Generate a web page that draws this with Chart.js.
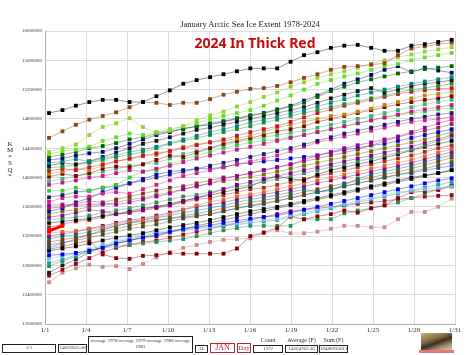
<!DOCTYPE html>
<html><head><meta charset="utf-8">
<script src="https://cdn.jsdelivr.net/npm/chart.js@4/dist/chart.umd.min.js"></script>
<style>
body{margin:0;background:#fff;}
#wrap{position:relative;width:474px;height:355px;overflow:hidden;background:#fff;}
#c{position:absolute;left:0;top:0;}
.t{position:absolute;font-family:'Liberation Serif','Times New Roman',serif;color:#222;white-space:nowrap;}
.box{position:absolute;box-sizing:border-box;border:1.5px solid #222;background:#fff;font-family:'Liberation Serif',serif;font-size:5px;color:#333;text-align:center;overflow:hidden;white-space:nowrap;}
.lbl{position:absolute;font-family:'Liberation Serif',serif;font-size:6px;color:#333;text-align:center;white-space:nowrap;}
</style></head><body>
<div id="wrap">
<canvas id="c" width="474" height="338"></canvas>
<div class="t" style="left:130px;width:240px;top:19px;font-size:8.5px;text-align:center;">January Arctic Sea Ice Extent 1978-2024</div>
<div class="t" style="left:150px;width:210px;top:33px;font-size:14px;text-align:center;font-family:'Noto Sans','Open Sans',sans-serif;font-weight:bold;color:#cc0a0a;">2024 In Thick Red</div>
<div class="t" style="left:5px;width:10px;top:141px;font-size:7px;line-height:6.4px;text-align:center;white-space:normal;">K<br>M<br>*<br>S<br>Q<br>*</div>
<div class="box" style="left:2px;top:344px;width:54px;height:9px;line-height:6px;">1/1</div>
<div class="box" style="left:58px;top:344px;width:29px;height:9px;line-height:6px;">14033625.00</div>
<div class="box" style="left:88px;top:336px;width:105px;height:17px;line-height:6px;padding-top:1px;white-space:normal;">average 1978 average 1979 average 1980 average 1981</div>
<div class="box" style="left:195px;top:345px;width:13px;height:8px;line-height:5px;">AL</div>
<div class="box" style="left:210px;top:343px;width:25px;height:10px;border:1px solid #a33;color:#d02030;font-size:8px;line-height:8px;">JAN</div>
<div class="box" style="left:237px;top:343px;width:14px;height:10px;border:1px solid #a33;color:#d02030;font-size:7px;line-height:8px;">Day</div>
<div class="lbl" style="left:253px;width:30px;top:337px;">Count</div>
<div class="box" style="left:253px;top:345px;width:30px;height:8px;line-height:5px;">1372</div>
<div class="lbl" style="left:285px;width:33px;top:337px;">Average (F)</div>
<div class="box" style="left:285px;top:345px;width:33px;height:8px;line-height:5px;">14204763.36</div>
<div class="lbl" style="left:319px;width:29px;top:337px;">Sum (F)</div>
<div class="box" style="left:319px;top:345px;width:29px;height:8px;line-height:5px;">19480935611</div>
<div style="position:absolute;left:421px;top:333px;width:31px;height:17px;background:linear-gradient(160deg,#c9b37a 0%,#8a7046 35%,#3b2e22 55%,#9b8a66 75%,#d8cfa8 100%);"></div>
<div style="position:absolute;left:419px;top:350px;width:35px;height:3px;background:#e04040;opacity:0.7;"></div>
</div>
<script>
const dayLabels = ['1/1','1/2','1/3','1/4','1/5','1/6','1/7','1/8','1/9','1/10','1/11','1/12','1/13','1/14','1/15','1/16','1/17','1/18','1/19','1/20','1/21','1/22','1/23','1/24','1/25','1/26','1/27','1/28','1/29','1/30','1/31'];
const yTickValues = [12000000,12400000,12800000,13200000,13600000,14000000,14400000,14800000,15200000,15600000,16000000];

const s01 = [14.88e6,14.92e6,14.98e6,15.03e6,15.06e6,15.06e6,15.03e6,15.03e6,15.11e6,15.19e6,15.28e6,15.33e6,15.37e6,15.41e6,15.45e6,15.49e6,15.49e6,15.49e6,15.58e6,15.67e6,15.71e6,15.77e6,15.80e6,15.81e6,15.77e6,15.73e6,15.73e6,15.80e6,15.82e6,15.85e6,15.88e6];
const s02 = [14.54e6,14.63e6,14.72e6,14.79e6,14.84e6,14.89e6,14.96e6,15.03e6,15.02e6,14.99e6,15.02e6,15.02e6,15.07e6,15.13e6,15.17e6,15.21e6,15.22e6,15.25e6,15.30e6,15.36e6,15.41e6,15.47e6,15.51e6,15.52e6,15.54e6,15.56e6,15.67e6,15.76e6,15.79e6,15.82e6,15.84e6];
const s03 = [14.35e6,14.40e6,14.45e6,14.58e6,14.69e6,14.74e6,14.81e6,14.69e6,14.61e6,14.64e6,14.70e6,14.78e6,14.85e6,14.90e6,14.97e6,15.03e6,15.10e6,15.16e6,15.24e6,15.30e6,15.36e6,15.41e6,15.45e6,15.50e6,15.55e6,15.60e6,15.64e6,15.68e6,15.72e6,15.75e6,15.78e6];
const s04 = [14.32e6,14.36e6,14.38e6,14.42e6,14.50e6,14.55e6,14.60e6,14.58e6,14.62e6,14.66e6,14.70e6,14.74e6,14.80e6,14.84e6,14.88e6,14.92e6,14.98e6,15.05e6,15.12e6,15.20e6,15.28e6,15.33e6,15.38e6,15.42e6,15.47e6,15.52e6,15.55e6,15.60e6,15.64e6,15.67e6,15.70e6];
const s05 = [14.28e6,14.31e6,14.35e6,14.40e6,14.43e6,14.47e6,14.52e6,14.55e6,14.60e6,14.63e6,14.66e6,14.70e6,14.74e6,14.77e6,14.81e6,14.85e6,14.88e6,14.92e6,14.97e6,15.02e6,15.10e6,15.18e6,15.24e6,15.30e6,15.34e6,15.38e6,15.42e6,15.45e6,15.48e6,15.50e6,15.52e6];
const s06 = [14.24e6,14.26e6,14.30e6,14.33e6,14.35e6,14.40e6,14.46e6,14.52e6,14.58e6,14.62e6,14.67e6,14.70e6,14.72e6,14.76e6,14.80e6,14.84e6,14.88e6,14.93e6,14.98e6,15.05e6,15.12e6,15.20e6,15.28e6,15.34e6,15.40e6,15.47e6,15.52e6,15.44e6,15.50e6,15.46e6,15.43e6];
const s07 = [14.20e6,14.22e6,14.25e6,14.22e6,14.26e6,14.30e6,14.35e6,14.38e6,14.42e6,14.47e6,14.52e6,14.57e6,14.62e6,14.66e6,14.70e6,14.75e6,14.79e6,14.83e6,14.88e6,14.92e6,14.97e6,15.02e6,15.07e6,15.12e6,15.16e6,15.20e6,15.24e6,15.28e6,15.31e6,15.34e6,15.37e6];
const s08 = [14.16e6,14.20e6,14.18e6,14.22e6,14.28e6,14.34e6,14.40e6,14.46e6,14.50e6,14.55e6,14.60e6,14.65e6,14.68e6,14.72e6,14.76e6,14.80e6,14.84e6,14.88e6,14.92e6,14.96e6,15.02e6,15.08e6,15.13e6,15.18e6,15.22e6,15.16e6,15.20e6,15.25e6,15.28e6,15.30e6,15.33e6];
const s09 = [14.13e6,14.15e6,14.17e6,14.20e6,14.24e6,14.28e6,14.31e6,14.35e6,14.40e6,14.46e6,14.50e6,14.54e6,14.58e6,14.62e6,14.66e6,14.70e6,14.75e6,14.79e6,14.84e6,14.88e6,14.92e6,14.96e6,15.00e6,15.04e6,15.08e6,15.12e6,15.16e6,15.20e6,15.22e6,15.25e6,15.28e6];
const s10 = [14.09e6,14.12e6,14.10e6,14.14e6,14.18e6,14.22e6,14.26e6,14.30e6,14.33e6,14.36e6,14.40e6,14.44e6,14.48e6,14.52e6,14.57e6,14.62e6,14.66e6,14.70e6,14.76e6,14.82e6,14.88e6,14.93e6,14.98e6,15.02e6,15.06e6,15.10e6,15.14e6,15.17e6,15.19e6,15.21e6,15.22e6];
const s11 = [14.05e6,14.08e6,14.12e6,14.10e6,14.16e6,14.22e6,14.25e6,14.29e6,14.31e6,14.36e6,14.42e6,14.45e6,14.48e6,14.50e6,14.53e6,14.57e6,14.62e6,14.68e6,14.72e6,14.76e6,14.80e6,14.84e6,14.86e6,14.90e6,14.94e6,14.99e6,15.03e6,15.08e6,15.12e6,15.14e6,15.17e6];
const s12 = [14.01e6,14.05e6,14.02e6,14.06e6,14.12e6,14.15e6,14.14e6,14.18e6,14.24e6,14.30e6,14.28e6,14.34e6,14.40e6,14.46e6,14.50e6,14.54e6,14.58e6,14.63e6,14.66e6,14.70e6,14.76e6,14.80e6,14.84e6,14.88e6,14.92e6,14.96e6,15.00e6,15.03e6,15.06e6,15.08e6,15.11e6];
const s13 = [13.95e6,13.98e6,14.02e6,14.05e6,14.08e6,14.12e6,14.16e6,14.18e6,14.20e6,14.26e6,14.32e6,14.36e6,14.40e6,14.44e6,14.48e6,14.52e6,14.55e6,14.58e6,14.61e6,14.64e6,14.68e6,14.72e6,14.76e6,14.80e6,14.84e6,14.88e6,14.92e6,14.96e6,15.00e6,15.03e6,15.06e6];
const s14 = [13.90e6,13.93e6,13.96e6,14.00e6,14.02e6,14.06e6,14.10e6,14.08e6,14.12e6,14.16e6,14.21e6,14.26e6,14.30e6,14.34e6,14.38e6,14.42e6,14.46e6,14.50e6,14.54e6,14.58e6,14.62e6,14.66e6,14.70e6,14.74e6,14.78e6,14.82e6,14.86e6,14.90e6,14.93e6,14.96e6,14.99e6];
const s15 = [13.82e6,13.82e6,13.86e6,13.82e6,13.86e6,13.90e6,14.00e6,14.08e6,14.10e6,14.18e6,14.25e6,14.30e6,14.35e6,14.40e6,14.44e6,14.48e6,14.50e6,14.52e6,14.55e6,14.58e6,14.62e6,14.66e6,14.70e6,14.74e6,14.78e6,14.82e6,14.85e6,14.88e6,14.90e6,14.93e6,14.95e6];
const s16 = [13.73e6,13.76e6,13.80e6,13.82e6,13.86e6,13.88e6,13.92e6,13.96e6,14.00e6,14.04e6,14.08e6,14.12e6,14.16e6,14.20e6,14.24e6,14.28e6,14.32e6,14.36e6,14.40e6,14.45e6,14.50e6,14.55e6,14.60e6,14.64e6,14.68e6,14.72e6,14.76e6,14.80e6,14.83e6,14.86e6,14.88e6];
const s17 = [13.67e6,13.72e6,13.74e6,13.74e6,13.78e6,13.80e6,13.78e6,13.84e6,13.90e6,13.96e6,14.02e6,14.06e6,14.10e6,14.14e6,14.18e6,14.22e6,14.26e6,14.30e6,14.36e6,14.42e6,14.48e6,14.52e6,14.56e6,14.60e6,14.64e6,14.68e6,14.72e6,14.76e6,14.78e6,14.80e6,14.83e6];
const s18 = [13.62e6,13.63e6,13.62e6,13.63e6,13.64e6,13.63e6,13.66e6,13.70e6,13.74e6,13.78e6,13.84e6,13.88e6,13.92e6,13.98e6,14.02e6,14.06e6,14.10e6,14.14e6,14.18e6,14.24e6,14.30e6,14.35e6,14.40e6,14.44e6,14.48e6,14.52e6,14.56e6,14.62e6,14.68e6,14.74e6,14.79e6];
const s19 = [13.58e6,13.60e6,13.64e6,13.68e6,13.66e6,13.70e6,13.74e6,13.78e6,13.82e6,13.86e6,13.88e6,13.92e6,13.96e6,14.00e6,14.02e6,14.06e6,14.10e6,14.14e6,14.18e6,14.22e6,14.26e6,14.30e6,14.34e6,14.38e6,14.44e6,14.50e6,14.55e6,14.60e6,14.64e6,14.68e6,14.73e6];
const s20 = [13.54e6,13.58e6,13.66e6,13.72e6,13.80e6,13.86e6,13.92e6,13.98e6,14.04e6,14.08e6,14.10e6,14.12e6,14.12e6,14.14e6,14.18e6,14.20e6,14.22e6,14.24e6,14.26e6,14.28e6,14.30e6,14.34e6,14.38e6,14.40e6,14.44e6,14.46e6,14.50e6,14.54e6,14.58e6,14.62e6,14.66e6];
const s21 = [13.50e6,13.54e6,13.56e6,13.60e6,13.63e6,13.66e6,13.70e6,13.72e6,13.76e6,13.80e6,13.84e6,13.88e6,13.92e6,13.95e6,13.98e6,14.01e6,14.04e6,14.08e6,14.12e6,14.16e6,14.20e6,14.24e6,14.28e6,14.32e6,14.36e6,14.40e6,14.44e6,14.48e6,14.52e6,14.57e6,14.62e6];
const s22 = [13.46e6,13.48e6,13.52e6,13.56e6,13.54e6,13.50e6,13.52e6,13.56e6,13.60e6,13.62e6,13.68e6,13.72e6,13.78e6,13.84e6,13.90e6,13.94e6,13.98e6,14.02e6,14.06e6,14.10e6,14.14e6,14.18e6,14.22e6,14.26e6,14.30e6,14.34e6,14.38e6,14.42e6,14.47e6,14.52e6,14.58e6];
const s23 = [13.42e6,13.44e6,13.46e6,13.48e6,13.52e6,13.55e6,13.58e6,13.62e6,13.66e6,13.70e6,13.74e6,13.76e6,13.80e6,13.84e6,13.87e6,13.90e6,13.94e6,13.98e6,14.02e6,14.06e6,14.10e6,14.14e6,14.18e6,14.22e6,14.26e6,14.30e6,14.34e6,14.38e6,14.44e6,14.50e6,14.55e6];
const s24 = [13.38e6,13.40e6,13.42e6,13.44e6,13.48e6,13.50e6,13.54e6,13.58e6,13.60e6,13.64e6,13.68e6,13.72e6,13.76e6,13.80e6,13.84e6,13.88e6,13.96e6,14.02e6,13.98e6,13.96e6,14.04e6,14.10e6,14.14e6,14.18e6,14.22e6,14.27e6,14.32e6,14.37e6,14.42e6,14.46e6,14.50e6];
const s25 = [13.32e6,13.36e6,13.40e6,13.42e6,13.46e6,13.50e6,13.52e6,13.55e6,13.58e6,13.62e6,13.66e6,13.70e6,13.72e6,13.76e6,13.80e6,13.84e6,13.86e6,13.90e6,13.94e6,13.98e6,14.02e6,14.06e6,14.10e6,14.14e6,14.18e6,14.22e6,14.26e6,14.30e6,14.35e6,14.40e6,14.44e6];
const s26 = [13.24e6,13.26e6,13.27e6,13.30e6,13.32e6,13.36e6,13.40e6,13.42e6,13.46e6,13.50e6,13.56e6,13.62e6,13.67e6,13.70e6,13.74e6,13.77e6,13.80e6,13.84e6,13.88e6,13.92e6,13.96e6,14.00e6,14.04e6,14.08e6,14.12e6,14.16e6,14.20e6,14.24e6,14.29e6,14.34e6,14.39e6];
const s27 = [13.20e6,13.23e6,13.26e6,13.30e6,13.34e6,13.38e6,13.42e6,13.44e6,13.48e6,13.52e6,13.56e6,13.60e6,13.63e6,13.66e6,13.70e6,13.74e6,13.77e6,13.80e6,13.84e6,13.88e6,13.92e6,13.96e6,14.00e6,14.04e6,14.08e6,14.12e6,14.16e6,14.20e6,14.25e6,14.30e6,14.35e6];
const s28 = [13.16e6,13.20e6,13.22e6,13.26e6,13.30e6,13.34e6,13.38e6,13.42e6,13.45e6,13.48e6,13.52e6,13.55e6,13.58e6,13.62e6,13.66e6,13.70e6,13.73e6,13.76e6,13.80e6,13.84e6,13.80e6,13.82e6,13.90e6,13.98e6,14.04e6,14.08e6,14.12e6,14.16e6,14.21e6,14.26e6,14.31e6];
const s29 = [13.12e6,13.15e6,13.18e6,13.22e6,13.26e6,13.30e6,13.34e6,13.38e6,13.41e6,13.44e6,13.48e6,13.51e6,13.54e6,13.58e6,13.62e6,13.66e6,13.69e6,13.72e6,13.76e6,13.80e6,13.84e6,13.88e6,13.92e6,13.96e6,14.00e6,14.04e6,14.08e6,14.12e6,14.17e6,14.22e6,14.27e6];
const s30 = [13.08e6,13.11e6,13.14e6,13.18e6,13.22e6,13.26e6,13.30e6,13.33e6,13.36e6,13.40e6,13.44e6,13.47e6,13.50e6,13.54e6,13.58e6,13.62e6,13.65e6,13.68e6,13.72e6,13.76e6,13.80e6,13.84e6,13.88e6,13.92e6,13.96e6,14.00e6,14.04e6,14.08e6,14.12e6,14.17e6,14.21e6];
const s31 = [13.04e6,13.10e6,13.16e6,13.22e6,13.28e6,13.34e6,13.38e6,13.40e6,13.42e6,13.44e6,13.46e6,13.48e6,13.50e6,13.54e6,13.58e6,13.61e6,13.64e6,13.68e6,13.72e6,13.76e6,13.80e6,13.84e6,13.88e6,13.92e6,13.96e6,14.00e6,14.04e6,14.06e6,14.10e6,14.13e6,14.16e6];
const s32 = [13.00e6,13.03e6,13.06e6,13.10e6,13.14e6,13.18e6,13.21e6,13.24e6,13.28e6,13.32e6,13.35e6,13.38e6,13.42e6,13.46e6,13.50e6,13.54e6,13.57e6,13.60e6,13.64e6,13.68e6,13.72e6,13.76e6,13.80e6,13.84e6,13.88e6,13.92e6,13.96e6,14.00e6,14.03e6,14.06e6,14.10e6];
const s33 = [12.94e6,12.95e6,12.97e6,13.00e6,13.04e6,13.10e6,13.14e6,13.18e6,13.22e6,13.26e6,13.30e6,13.32e6,13.35e6,13.38e6,13.41e6,13.44e6,13.46e6,13.48e6,13.52e6,13.56e6,13.60e6,13.64e6,13.68e6,13.72e6,13.76e6,13.80e6,13.84e6,13.88e6,13.92e6,13.96e6,13.99e6];
const s34 = [12.89e6,12.93e6,12.96e6,13.02e6,13.08e6,13.14e6,13.18e6,13.22e6,13.26e6,13.28e6,13.30e6,13.32e6,13.34e6,13.36e6,13.38e6,13.40e6,13.42e6,13.44e6,13.48e6,13.52e6,13.56e6,13.60e6,13.64e6,13.68e6,13.72e6,13.76e6,13.80e6,13.82e6,13.84e6,13.86e6,13.87e6];
const s35 = [13.02e6,13.06e6,13.10e6,13.14e6,12.95e6,12.90e6,12.89e6,12.93e6,12.94e6,12.97e6,12.96e6,12.96e6,12.96e6,12.96e6,13.03e6,13.20e6,13.25e6,13.31e6,13.47e6,13.43e6,13.47e6,13.50e6,13.55e6,13.52e6,13.58e6,13.62e6,13.72e6,13.80e6,13.81e6,13.83e6,13.88e6];
const s36 = [12.83e6,12.88e6,12.94e6,13.00e6,13.06e6,13.12e6,13.16e6,13.20e6,13.24e6,13.26e6,13.28e6,13.30e6,13.32e6,13.34e6,13.36e6,13.38e6,13.40e6,13.42e6,13.46e6,13.50e6,13.54e6,13.58e6,13.62e6,13.66e6,13.70e6,13.74e6,13.78e6,13.82e6,13.86e6,13.90e6,13.94e6];
const s37 = [12.79e6,12.86e6,12.92e6,13.00e6,13.04e6,13.06e6,13.08e6,13.10e6,13.12e6,13.14e6,13.16e6,13.20e6,13.24e6,13.28e6,13.31e6,13.34e6,13.34e6,13.34e6,13.34e6,13.43e6,13.43e6,13.43e6,13.51e6,13.55e6,13.58e6,13.62e6,13.66e6,13.72e6,13.78e6,13.84e6,13.90e6];
const s38 = [12.70e6,12.80e6,12.88e6,12.98e6,13.05e6,13.10e6,13.14e6,13.18e6,13.20e6,13.25e6,13.30e6,13.34e6,13.38e6,13.42e6,13.46e6,13.50e6,13.54e6,13.58e6,13.62e6,13.66e6,13.70e6,13.74e6,13.78e6,13.82e6,13.86e6,13.90e6,13.94e6,13.98e6,14.02e6,14.06e6,14.10e6];
const s39 = [12.66e6,12.74e6,12.82e6,12.90e6,12.98e6,13.04e6,13.08e6,13.12e6,13.14e6,13.18e6,13.22e6,13.26e6,13.30e6,13.34e6,13.38e6,13.42e6,13.46e6,13.50e6,13.54e6,13.56e6,13.58e6,13.60e6,13.62e6,13.64e6,13.66e6,13.68e6,13.70e6,13.72e6,13.74e6,13.75e6,13.76e6];
const s40 = [12.57e6,12.70e6,12.76e6,12.81e6,12.78e6,12.79e6,12.75e6,12.82e6,12.91e6,12.98e6,13.04e6,13.08e6,13.12e6,13.15e6,13.16e6,13.17e6,13.24e6,13.28e6,13.24e6,13.24e6,13.26e6,13.30e6,13.34e6,13.34e6,13.32e6,13.32e6,13.43e6,13.53e6,13.53e6,13.60e6,13.71e6];
const y2024 = [13.27e6,13.34e6];

const pastSeries = [s01,s02,s03,s04,s05,s06,s07,s08,s09,s10,s11,s12,s13,s14,s15,s16,s17,s18,s19,s20,s21,s22,s23,s24,s25,s26,s27,s28,s29,s30,s31,s32,s33,s34,s35,s36,s37,s38,s39,s40];
const seriesColors = ['#000000','#8b4513','#9acd32','#66dd22','#006400','#000080','#008080','#111111','#228b22','#c8102e','#b8860b','#800000','#3cb371','#c71585','#32cd32','#191970','#d81b80','#9b009b','#8b2a2a','#0000cd','#6b6b00','#800080','#2e8b57','#000000','#b22222','#d2691e','#8b008b','#006f6f','#7a3b10','#3f5320','#1f3fbf','#000000','#0000ee','#7fb8e8','#8b0000','#1a9e96','#2e8b57','#1a1a1a','#a0001e','#c48c8c'];

function hexA(h,a){const r=parseInt(h.slice(1,3),16),g=parseInt(h.slice(3,5),16),b=parseInt(h.slice(5,7),16);return `rgba(${r},${g},${b},${a})`;}

const datasets = [{
  label:'2024', data:y2024.map((v,i)=>({x:i,y:v})), xAxisID:'xd', yAxisID:'y',
  borderColor:'#ff0000', borderWidth:3, backgroundColor:'#ff0000',
  pointStyle:'rect', pointRadius:2.8, pointBorderWidth:0, pointBackgroundColor:'#ff0000', tension:0, clip:false
}];
pastSeries.forEach((arr,k)=>{
  datasets.push({
    label:'series '+(k+1), data:arr.map((v,i)=>({x:i,y:v})), xAxisID:'xd', yAxisID:'y',
    borderColor:hexA(seriesColors[k],0.42), borderWidth:1, backgroundColor:seriesColors[k],
    pointStyle:'rect', pointRadius:2.7, pointBorderWidth:0, pointBackgroundColor:seriesColors[k], tension:0, clip:false
  });
});

new Chart(document.getElementById('c'), {
  type:'line',
  data:{datasets},
  options:{
    responsive:false, animation:false, devicePixelRatio:1,
    layout:{padding:{left:0,right:19,top:31,bottom:0}},
    plugins:{legend:{display:false}, tooltip:{enabled:false}, title:{display:false}},
    scales:{
      x:{type:'linear', position:'bottom', min:0, max:30,
        afterFit:(s)=>{s.height=14;},
        ticks:{stepSize:3, autoSkip:false, maxRotation:0, padding:2, color:'#333',
          font:{family:"'Liberation Serif', serif", size:7},
          callback:(v)=>dayLabels[v]},
        grid:{color:'#dcdcdc', drawTicks:false},
        border:{color:'#b0b0b0'}},
      xd:{type:'linear', display:false, min:-0.3, max:30.25},
      y:{type:'linear', min:12000000, max:16000000,
        afterFit:(s)=>{s.width=45;},
        afterBuildTicks:(s)=>{s.ticks = yTickValues.map(v=>({value:v}));},
        ticks:{padding:3, color:'#333', font:{family:"'Liberation Serif', serif", size:5},
          callback:(v)=>String(v)},
        grid:{color:'#dcdcdc', drawTicks:false},
        border:{color:'#b0b0b0'}}
    }
  }
});
</script>
</body></html>
